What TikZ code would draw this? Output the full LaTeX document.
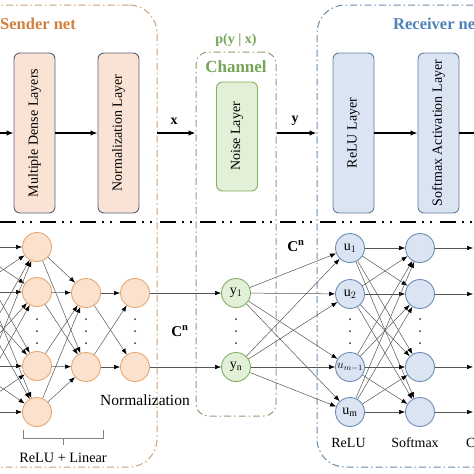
\documentclass[tikz,border=0pt]{standalone}
\usepackage{fontspec}
\setmainfont{Liberation Serif}
\usetikzlibrary{arrows.meta}
\definecolor{sendline}{RGB}{205,160,115}
\definecolor{sendtext}{RGB}{210,128,62}
\definecolor{peach}{RGB}{250,227,212}
\definecolor{blkborder}{RGB}{88,96,122}
\definecolor{npeach}{RGB}{251,226,206}
\definecolor{nborder}{RGB}{230,168,115}
\definecolor{chanline}{RGB}{145,158,118}
\definecolor{chantext}{RGB}{118,165,88}
\definecolor{gfill}{RGB}{226,240,216}
\definecolor{gborder}{RGB}{132,176,98}
\definecolor{recvline}{RGB}{105,140,175}
\definecolor{recvtext}{RGB}{78,130,185}
\definecolor{bfill}{RGB}{218,228,243}
\definecolor{bborder}{RGB}{110,142,182}
\definecolor{bblk}{RGB}{100,125,160}
\definecolor{connc}{RGB}{85,85,85}
\begin{document}
\begin{tikzpicture}[x=1pt,y=-1pt,
  region/.style={draw, line width=1pt, rounded corners=28pt, dash pattern=on 7pt off 3pt on 1.5pt off 3pt},
  blk/.style={draw, rotate=90, minimum width=160pt, minimum height=41pt, inner sep=0pt, rounded corners=6pt, line width=0.9pt, font=\fontsize{14}{16}\selectfont},
  neuron/.style={circle, draw, line width=0.9pt, minimum size=29pt, inner sep=0pt, font=\fontsize{14}{16}\selectfont},
  topar/.style={line width=1.3pt, -{Latex[length=7pt,width=5.5pt]}},
  conn/.style={draw=connc, line width=0.5pt, -{Latex[length=6pt,width=4.5pt,color=black]}},
  sep/.style={line width=2pt, dash pattern=on 16pt off 6pt on 2pt off 6pt on 2pt off 8pt},
  dotn/.style={circle, fill=black!80, inner sep=0pt, minimum size=2pt},
  lbl/.style={inner sep=0pt, font=\fontsize{14}{16}\selectfont},
  bracec/.style={draw=gray, line width=0.6pt}
]
\useasboundingbox (0,0) rectangle (474,474);
\clip (0,0) rectangle (474,474);

% regions
\node[region, draw=sendline, minimum width=197pt, minimum height=462pt] (sender) at (58.5,236) {};
\node[region, draw=recvline, minimum width=213pt, minimum height=462pt] (receiver) at (423.5,236) {};
\node[region, draw=chanline, rounded corners=12pt, minimum width=80pt, minimum height=364pt] (chan) at (236,234) {};

% titles
\node[anchor=west, inner sep=0pt, text=sendtext, font=\bfseries\fontsize{16.5}{18}\selectfont] (sendt) at (0,24) {Sender net};
\node[anchor=west, inner sep=0pt, text=recvtext, font=\bfseries\fontsize{16.5}{18}\selectfont] (recvt) at (393,24) {Receiver net};
\node[inner sep=0pt, text=chantext, font=\bfseries\fontsize{14}{16}\selectfont] (pyx) at (236,40) {p(y | x)};
\node[inner sep=0pt, text=chantext, font=\bfseries\fontsize{17}{19}\selectfont] (chant) at (236,67) {Channel};

% blocks
\node[blk, fill=peach, draw=blkborder] (mdl) at (34.5,133) {Multiple Dense Layers};
\node[blk, fill=peach, draw=blkborder] (nl) at (118.5,133) {Normalization Layer};
\node[blk, fill=gfill, draw=gborder, minimum width=109pt] (noise) at (237,136.5) {Noise Layer};
\node[blk, fill=bfill, draw=bblk] (relu) at (353.5,133) {ReLU Layer};
\node[blk, fill=bfill, draw=bblk] (soft) at (438.5,133) {Softmax Activation Layer};

% top arrows
\coordinate (inL) at (0,133);
\coordinate (xs) at (157,133);
\coordinate (outR) at (480,133);
\draw[topar] (inL) -- (mdl);
\draw[topar] (mdl) -- (nl);
\draw[topar] (xs) -- (xs -| chan.west);
\draw[topar] (xs -| chan.east) -- (xs -| receiver.west);
\draw[topar] (relu) -- (soft);
\draw[line width=1.3pt] (soft) -- (outR);
\node[lbl, font=\bfseries\fontsize{14}{16}\selectfont] (xlab) at (174,121) {x};
\node[lbl, font=\bfseries\fontsize{14}{16}\selectfont] (ylab) at (295,121) {y};

% separator
\coordinate (sepL) at (0,222);
\coordinate (sepR) at (474,222);
\draw[sep] (sepL) -- (sepR);

% neurons
\foreach \n/\yy in {1/247,2/292,3/366,4/412} {
  \coordinate (in\n) at (-30,\yy);
  \node[neuron, fill=npeach, draw=nborder] (a\n) at (37,\yy) {};
}
\node[neuron, fill=npeach, draw=nborder] (b1) at (86,293) {};
\node[neuron, fill=npeach, draw=nborder] (b2) at (86,367) {};
\node[neuron, fill=npeach, draw=nborder] (c1) at (135,293) {};
\node[neuron, fill=npeach, draw=nborder] (c2) at (135,367) {};
\node[neuron, fill=gfill, draw=gborder] (y1) at (236,293) {$\mathrm{y}_1$};
\node[neuron, fill=gfill, draw=gborder] (yn) at (236,367) {$\mathrm{y}_\mathrm{n}$};
\node[neuron, fill=bfill, draw=bborder] (u1) at (350,248) {$\mathrm{u}_1$};
\node[neuron, fill=bfill, draw=bborder] (u2) at (350,294) {$\mathrm{u}_2$};
\node[neuron, fill=bfill, draw=bborder, font=\fontsize{12}{14}\selectfont] (u3) at (350,367) {$u_{m-1}$};
\node[neuron, fill=bfill, draw=bborder] (u4) at (350,412) {$\mathrm{u}_\mathrm{m}$};
\foreach \n/\yy in {1/248,2/294,3/367,4/412} {
  \node[neuron, fill=bfill, draw=bborder] (s\n) at (420,\yy) {};
  \coordinate (o\n) at (473,\yy);
}

% dots
\foreach \x/\c in {37/a,86/b,135/c,236/y,350/u,420/s}
  \foreach \yy/\k in {319/1,331/2,343/3}
    \node[dotn] (d\c\k) at (\x,\yy) {};

% connections
\foreach \i in {1,...,4} \foreach \j in {1,...,4} \draw[conn] (in\i) -- (a\j);
\foreach \i in {1,...,4} \foreach \j in {1,2} \draw[conn] (a\i) -- (b\j);
\foreach \i in {1,2} \foreach \j in {1,2} \draw[conn] (b\i) -- (c\j);
\draw[conn] (c1) -- (y1);
\draw[conn] (c2) -- (yn);
\foreach \i in {y1,yn} \foreach \j in {1,...,4} \draw[conn] (\i) -- (u\j);
\foreach \i in {1,...,4} \foreach \j in {1,...,4} \draw[conn] (u\i) -- (s\j);
\foreach \i in {1,...,4} \draw[conn] (s\i) -- (o\i);

% labels
\node[lbl, font=\fontsize{15.5}{17}\selectfont] (lnorm) at (145,400) {Normalization};
\node[lbl, font=\bfseries\fontsize{15}{17}\selectfont] (cn1) at (180,331) {C$^{\mathbf{n}}$};
\node[lbl, font=\bfseries\fontsize{15}{17}\selectfont] (cn2) at (296,246) {C$^{\mathbf{n}}$};
\draw[bracec] (23,430) -- (23,438) -- (103,438) -- (103,430);
\draw[bracec] (63,438) -- (63,445);
\node[lbl, font=\fontsize{14.3}{16}\selectfont] (lrl) at (63,458) {ReLU + Linear};
\node[lbl] (lrelu) at (348.5,443) {ReLU};
\node[lbl] (lsoft) at (415,443) {Softmax};
\node[lbl, anchor=west] (lc) at (466,443) {C};
\end{tikzpicture}
\end{document}
